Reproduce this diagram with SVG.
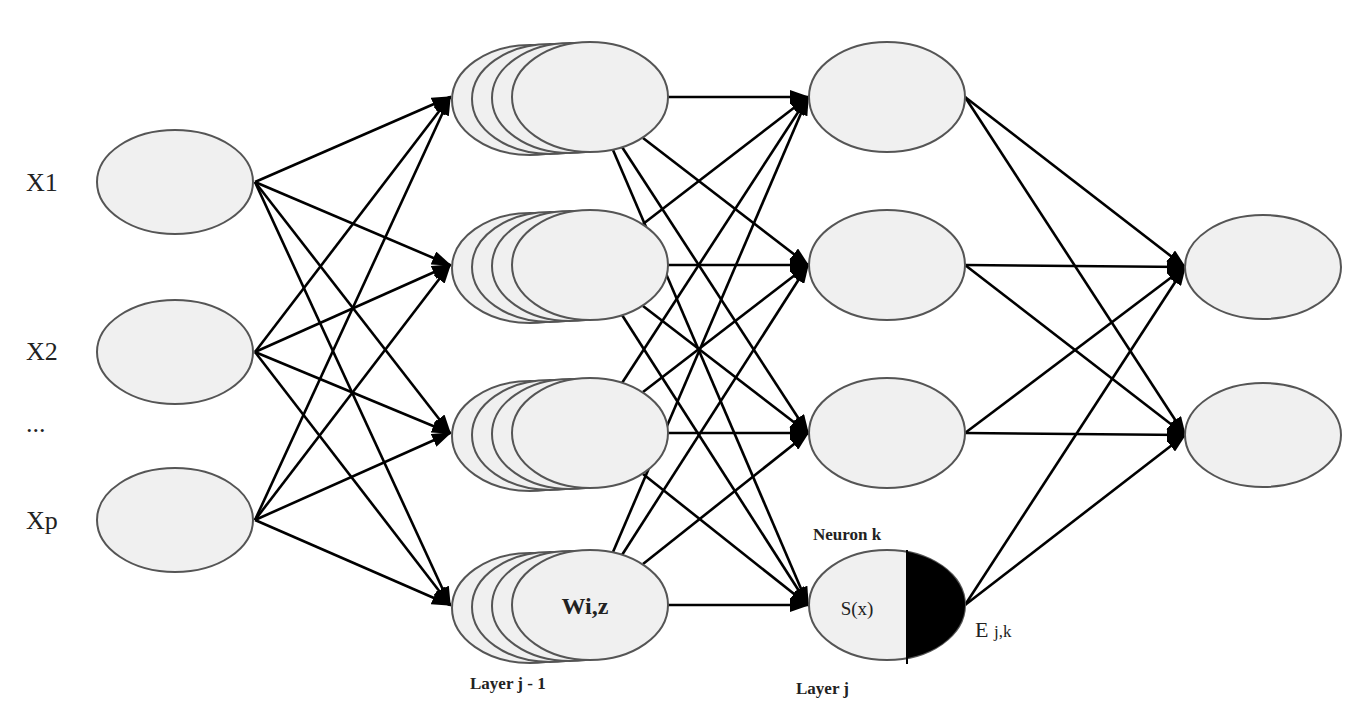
<svg xmlns="http://www.w3.org/2000/svg" width="1361" height="728" viewBox="0 0 1361 728">
<defs>
<style>
.n{fill:#f0f0f0;stroke:#555;stroke-width:2}
.e line{stroke:#000;stroke-width:2.6;marker-end:url(#a)}
.t{font-family:"Liberation Serif",serif;fill:#222}
.b{font-family:"Liberation Serif",serif;font-weight:bold;fill:#222;font-size:17px}
</style>
<marker id="a" markerUnits="userSpaceOnUse" markerWidth="20" markerHeight="14" refX="18" refY="7" orient="auto"><path d="M0,0L20,7L0,14z" fill="#000"/></marker>
<clipPath id="rh"><rect x="907" y="540" width="70" height="130"/></clipPath>
</defs>
<rect width="1361" height="728" fill="#fff"/>
<g class="e">
<line x1="255" y1="182" x2="450" y2="97"/><line x1="255" y1="182" x2="450" y2="265"/><line x1="255" y1="182" x2="450" y2="433"/><line x1="255" y1="182" x2="450" y2="605"/>
<line x1="255" y1="352" x2="450" y2="97"/><line x1="255" y1="352" x2="450" y2="265"/><line x1="255" y1="352" x2="450" y2="433"/><line x1="255" y1="352" x2="450" y2="605"/>
<line x1="255" y1="520" x2="450" y2="97"/><line x1="255" y1="520" x2="450" y2="265"/><line x1="255" y1="520" x2="450" y2="433"/><line x1="255" y1="520" x2="450" y2="605"/>
<line x1="668" y1="97" x2="808" y2="97"/><line x1="643" y1="138" x2="808" y2="265"/><line x1="622" y1="147" x2="808" y2="433"/><line x1="613" y1="150" x2="808" y2="605"/>
<line x1="643" y1="224" x2="808" y2="97"/><line x1="668" y1="265" x2="808" y2="265"/><line x1="643" y1="306" x2="808" y2="433"/><line x1="622" y1="315" x2="808" y2="605"/>
<line x1="622" y1="383" x2="808" y2="97"/><line x1="643" y1="392" x2="808" y2="265"/><line x1="668" y1="433" x2="808" y2="433"/><line x1="643" y1="474" x2="808" y2="605"/>
<line x1="613" y1="552" x2="808" y2="97"/><line x1="622" y1="555" x2="808" y2="265"/><line x1="643" y1="564" x2="808" y2="433"/><line x1="668" y1="605" x2="808" y2="605"/>
<line x1="965" y1="97" x2="1185" y2="267"/><line x1="965" y1="97" x2="1185" y2="435"/>
<line x1="965" y1="265" x2="1185" y2="267"/><line x1="965" y1="265" x2="1185" y2="435"/>
<line x1="965" y1="433" x2="1185" y2="267"/><line x1="965" y1="433" x2="1185" y2="435"/>
<line x1="965" y1="605" x2="1185" y2="267"/><line x1="965" y1="605" x2="1185" y2="435"/>
</g>
<g id="x1"><ellipse class="n" cx="175" cy="182" rx="78" ry="52"/></g>
<g id="x2"><ellipse class="n" cx="175" cy="352" rx="78" ry="52"/></g>
<g id="xp"><ellipse class="n" cx="175" cy="520" rx="78" ry="52"/></g>
<g id="h1"><ellipse class="n" cx="530" cy="100" rx="78" ry="55"/><ellipse class="n" cx="550" cy="99" rx="78" ry="55"/><ellipse class="n" cx="570" cy="98" rx="78" ry="55"/><ellipse class="n" cx="590" cy="97" rx="78" ry="55"/></g>
<g id="h2"><ellipse class="n" cx="530" cy="268" rx="78" ry="55"/><ellipse class="n" cx="550" cy="267" rx="78" ry="55"/><ellipse class="n" cx="570" cy="266" rx="78" ry="55"/><ellipse class="n" cx="590" cy="265" rx="78" ry="55"/></g>
<g id="h3"><ellipse class="n" cx="530" cy="436" rx="78" ry="55"/><ellipse class="n" cx="550" cy="435" rx="78" ry="55"/><ellipse class="n" cx="570" cy="434" rx="78" ry="55"/><ellipse class="n" cx="590" cy="433" rx="78" ry="55"/></g>
<g id="h4"><ellipse class="n" cx="530" cy="608" rx="78" ry="55"/><ellipse class="n" cx="550" cy="607" rx="78" ry="55"/><ellipse class="n" cx="570" cy="606" rx="78" ry="55"/><ellipse class="n" cx="590" cy="605" rx="78" ry="55"/><text class="t" x="585" y="614" font-size="24" font-weight="bold" text-anchor="middle">Wi,z</text></g>
<g id="k1"><ellipse class="n" cx="887" cy="97" rx="78" ry="55"/></g>
<g id="k2"><ellipse class="n" cx="887" cy="265" rx="78" ry="55"/></g>
<g id="k3"><ellipse class="n" cx="887" cy="433" rx="78" ry="55"/></g>
<g id="k4"><ellipse class="n" cx="887" cy="605" rx="78" ry="55"/><ellipse cx="887" cy="605" rx="78" ry="55" fill="#000" clip-path="url(#rh)"/><line x1="907" y1="550" x2="907" y2="664" stroke="#000" stroke-width="2"/><text class="t" x="857" y="615" font-size="19" text-anchor="middle">S(x)</text></g>
<g id="o1"><ellipse class="n" cx="1263" cy="267" rx="78" ry="52"/></g>
<g id="o2"><ellipse class="n" cx="1263" cy="435" rx="78" ry="52"/></g>
<g class="t" font-size="26">
<text x="26" y="191">X1</text><text x="26" y="360">X2</text><text x="26" y="432">...</text><text x="26" y="529">Xp</text>
</g>
<text class="b" x="813" y="540">Neuron k</text>
<text class="b" x="470" y="689">Layer j - 1</text>
<text class="b" x="796" y="694">Layer j</text>
<text class="t" x="975" y="637" font-size="22">E <tspan font-size="17">j,k</tspan></text>
</svg>
